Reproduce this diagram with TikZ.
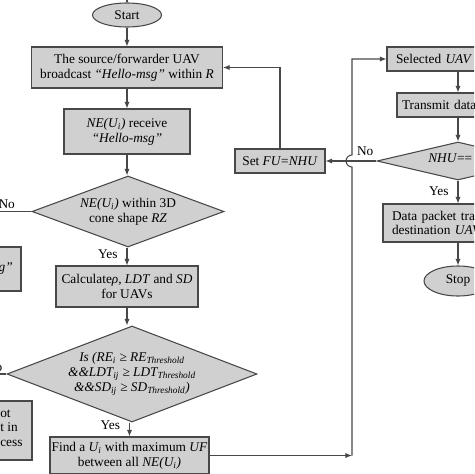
\documentclass[tikz,border=0pt]{standalone}
\usepackage{fontspec}
\setmainfont{Liberation Serif}
\usepackage{tikz}
\usetikzlibrary{shapes.geometric}
\usetikzlibrary{arrows.meta}

\definecolor{boxfill}{RGB}{208,208,208}
\definecolor{edgegray}{RGB}{72,72,72}

\tikzset{
  process/.style 2 args={draw=edgegray, fill=boxfill, line width=0.8pt, align=center, inner sep=0.75pt, minimum width=#1*0.75pt, minimum height=#2*0.75pt},
  decision/.style n args={3}{diamond, draw=edgegray, fill=boxfill, line width=0.8pt, align=center, inner sep=0pt, shape aspect=#3, minimum width=#1*0.75pt, minimum height=#2*0.75pt},
  terminal/.style 2 args={ellipse, draw=edgegray, fill=boxfill, line width=0.8pt, inner sep=0pt, minimum width=#1*0.75pt, minimum height=#2*0.75pt},
  flow/.style={draw=edgegray, line width=0.8pt, -{Latex[length=5pt,width=4pt]}},
  wire/.style={draw=edgegray, line width=0.8pt},
  lbl/.style={inner sep=0.75pt},
}

\begin{document}
\begin{tikzpicture}[x=0.75pt,y=0.75pt,yscale=-1,xscale=1,font=\fontsize{10}{11}\selectfont]
\useasboundingbox (0,0) rectangle (474,474);
\clip (0,0) rectangle (474,474);

%Left column
\coordinate (topin) at (127,-6);
\node[terminal={69}{24}] (start) at (127,15) {Start};
\node[process={191}{41}] (bcast) at (127,67.5) {The source/forwarder UAV\\broadcast \textit{“Hello-msg”} within \textit{R}};
\node[process={126}{45}] (recv) at (127,131.5) {\textit{NE(U\textsubscript{i})} receive\\\textit{“Hello-msg”}};
\node[decision={192}{71}{2.7}] (cone) at (128,211.5) {\textit{NE(U\textsubscript{i})} within 3D\\cone shape \textit{RZ}};
\node[process={142}{41}] (calc) at (127,286.5) {Calculate\textit{ρ}, \textit{LDT} and \textit{SD}\\for UAVs};
\node[decision={250}{96}{2.6}, font=\fontsize{10}{11}\selectfont\itshape] (thr) at (132,374) {Is (RE\textsubscript{i} ≥ RE\textsubscript{Threshold}\\\&\&LDT\textsubscript{ij} ≥ LDT\textsubscript{Threshold}\\\&\&SD\textsubscript{ij} ≥ SD\textsubscript{Threshold})};
\node[process={159}{37}] (find) at (129.5,455.5) {Find a \textit{U\textsubscript{i}} with maximum \textit{UF}\\between all \textit{NE(U\textsubscript{i})}};

%Boxes cut by the left edge
\node[process={81}{44}] (discard) at (-19.5,269) {};
\node[lbl, anchor=east] (discardtxt) at (14,268) {\textit{g”}};
\node[process={92}{59}] (ignore) at (-14,430.5) {};
\node[lbl, anchor=west, align=left] (ignoretxt) at (-1,428) {ot\\t in\\cess};
\coordinate (offcone) at (-12,211.5);
\coordinate (offthr) at (-14,374);

%Middle
\node[process={90}{24}] (setfu) at (280,161) {Set \textit{FU}=\textit{NHU}};
\coordinate (bend) at (352,455.5);

%Right column
\node[process={142}{24}, text width=124*0.75pt, align=left] (sel) at (458,59) {Selected \textit{UAV} se};
\node[process={122}{24}, text width=112*0.75pt, align=left] (send) at (458,105) {Transmit data};
\node[decision={162}{38}{4.5}] (nhu) at (458,161) {};
\node[lbl, anchor=west] (nhutxt) at (427,158) {\textit{NHU}==};
\node[process={150}{38}, text width=132*0.75pt, align=left] (deliver) at (458,223) {Data packet tran\\destination \textit{UAV}};
\node[terminal={68}{30}] (stop) at (458,281) {Stop};

%Connectors
\draw[wire] (topin) -- (start.north);
\draw[flow] (start) -- (bcast);
\draw[flow] (bcast) -- (recv);
\draw[flow] (recv.south) -- (recv.south |- cone.north);
\draw[flow] (cone.south -| calc.north) -- node[lbl, pos=0.35, left=6pt] {Yes} (calc.north);
\draw[wire] (cone.west) -- node[lbl, pos=0.57, above=1pt] {No} (offcone);
\draw[flow] (calc.south) -- (calc.south |- thr.north);
\draw[flow] (find.north |- thr.south) -- node[lbl, pos=0.2, left=6pt] {Yes} (find.north);
\draw[wire] (thr.west) -- node[lbl, pos=0.6, above=1pt] {No} (offthr);
\draw[flow] (find.east) -- (bend);
\draw[flow] (bend) -- ++(0,-288.5) arc[start angle=90, end angle=270, radius=6] |- (sel.west);
\draw[flow] (sel) -- (send);
\draw[flow] (send) -- (nhu);
\draw[flow] (nhu.west) -- node[lbl, pos=0.22, above=3pt] {No} (setfu.east);
\draw[flow] (setfu.north) |- (bcast.east);
\draw[flow] (nhu) -- node[lbl, pos=0.45, left=6pt] {Yes} (deliver);
\draw[flow] (deliver) -- (stop);

\end{tikzpicture}
\end{document}
